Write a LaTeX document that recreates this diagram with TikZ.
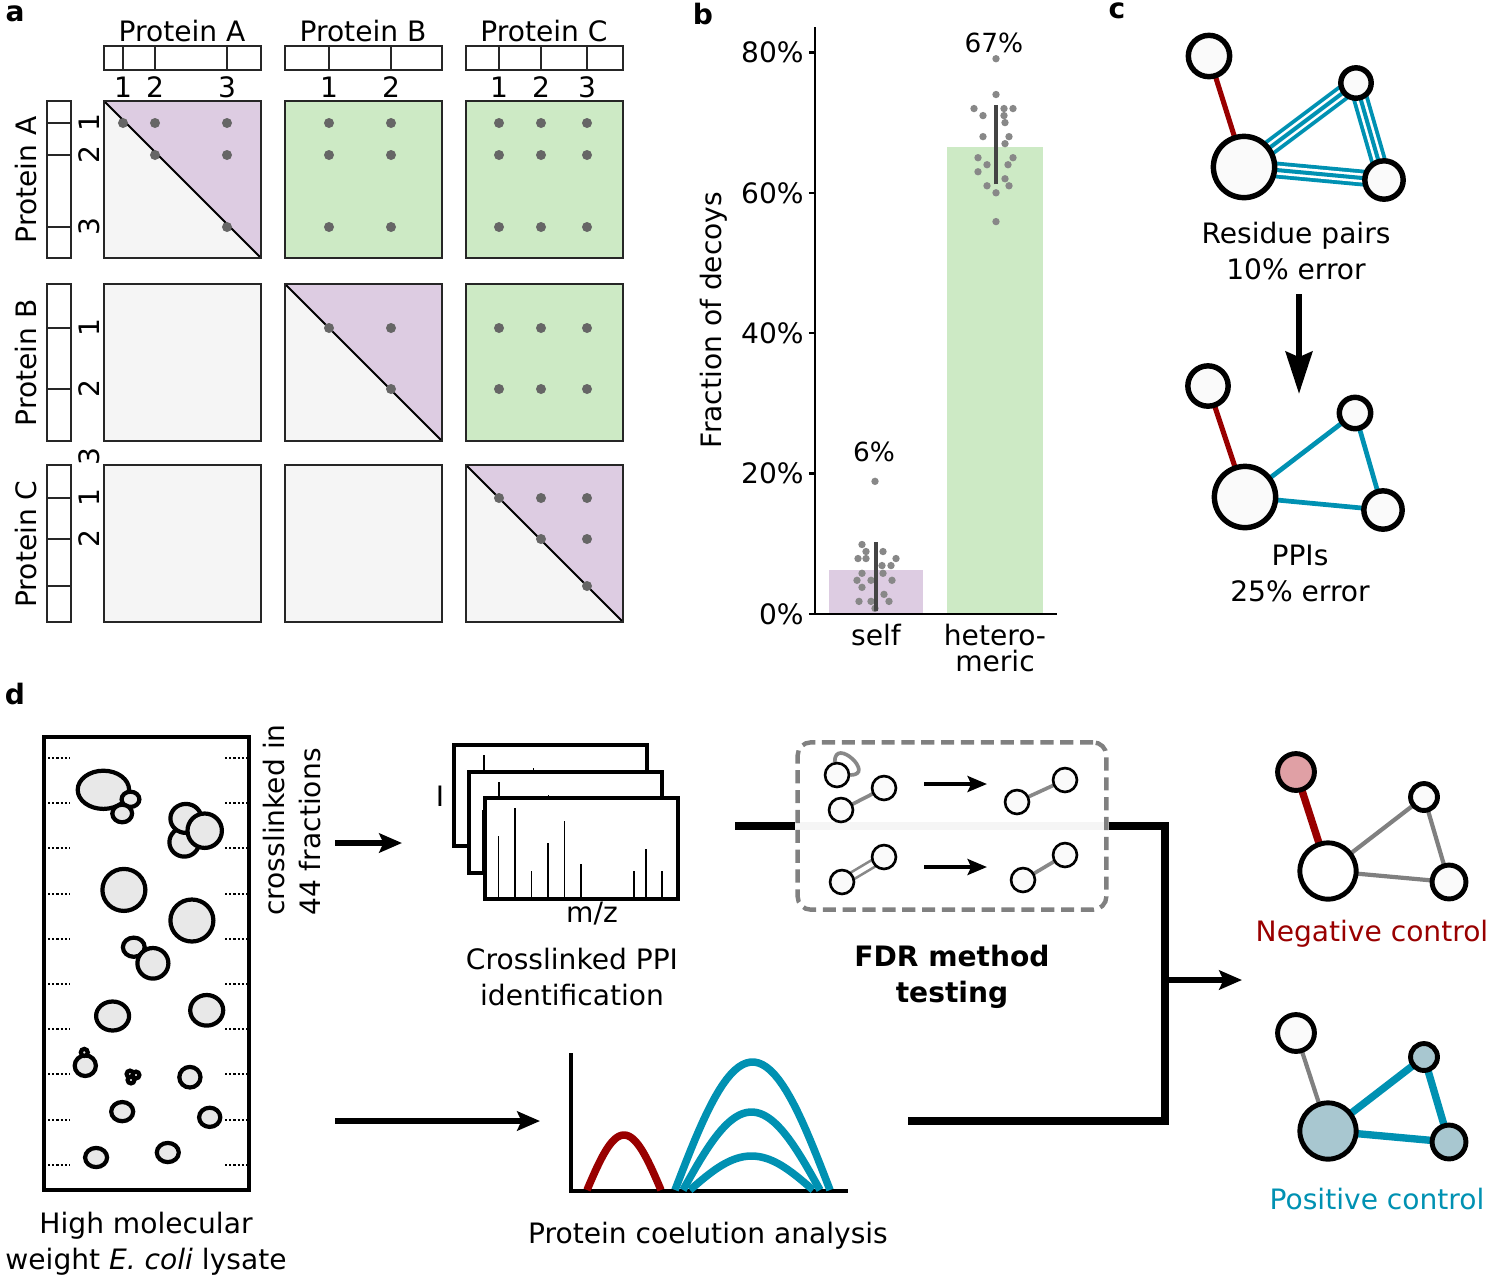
\documentclass[tikz,border=0pt]{standalone}
\usepackage{xcolor}
\usepackage{fontspec}
\setmainfont{DejaVu Sans}
\usepackage{tikz}
\usetikzlibrary{shapes,shapes.geometric,arrows.meta,calc,positioning,fit}

\definecolor{selfpurple}{RGB}{221,204,226}
\definecolor{hetgreen}{RGB}{205,234,197}
\definecolor{cellgray}{RGB}{245,245,245}
\definecolor{dotgray}{RGB}{102,102,102}
\definecolor{stripgray}{RGB}{136,136,136}
\definecolor{errgray}{RGB}{68,68,68}
\definecolor{linkgray}{RGB}{128,128,128}
\definecolor{ppiblue}{RGB}{0,145,178}
\definecolor{decoyred}{RGB}{153,0,0}
\definecolor{negfill}{RGB}{224,160,165}
\definecolor{posfill}{RGB}{168,199,208}
\definecolor{nodefill}{RGB}{250,250,250}
\definecolor{blobfill}{RGB}{232,232,232}

\newlength{\pxu}
\setlength{\pxu}{0.5669pt}
\newcommand{\bodyfont}{\fontsize{16}{20.5}\selectfont}
\newcommand{\panelfont}{\fontsize{16}{18}\selectfont\bfseries}

\pgfdeclarelayer{edges}
\pgfsetlayers{edges,main}

\begin{document}
\begin{tikzpicture}[x=0.02cm, y=-0.02cm, font=\bodyfont,
    arrow/.style = {line width=3.1pt,-{Stealth[length=13pt,width=11pt,inset=2.5pt]}}]
  \tikzset{panel/.style={font=\panelfont},
    cell/.style={draw=black!85,line width=1.4pt},
    seqbar/.style={draw=black!85,line width=1.4pt,fill=white},
    flow/.style={line width=4.2pt},
    bigarrow/.style={line width=3.9pt,-{Stealth[length=24pt,width=15pt,inset=3pt]}},
    minarrow/.style={line width=2.6pt,-{Stealth[length=11pt,width=9pt,inset=2pt]}},
    prot/.style={circle,draw=black,line width=3.1pt,fill=nodefill,inner sep=0pt},
    ctrl/.style={circle,draw=black,line width=2.8pt,fill=nodefill,inner sep=0pt},
    mini/.style={circle,draw=black,line width=1.5pt,fill=nodefill,inner sep=0pt,minimum size=24*\pxu},
    decoy/.style={draw=decoyred,line width=2.9pt},
    ppi/.style={draw=ppiblue,line width=2.7pt},
    triple/.style={draw=ppiblue,line width=9.6pt,postaction={draw=white,line width=5.2pt},postaction={draw=ppiblue,line width=2.3pt}},
    graylink/.style={draw=linkgray,line width=2.4pt},
    fdrlink/.style={draw=stripgray,line width=2.1pt},
    blob/.style={draw=black,line width=2.4pt,fill=blobfill},
    fraction/.style={line width=1.2pt,dash pattern=on 1.2pt off 1.2pt},
    specframe/.style={draw=black,line width=2.2pt,fill=white},
    fdrbox/.style={rectangle,draw=linkgray,line width=2.5pt,rounded corners=7.5pt,dash pattern=on 7.5pt off 3.8pt}}

  \useasboundingbox (0,0) rectangle (1491,1279);

  % Panel a: contact maps
  \node[panel] (la) at (15,14) {a};
  \foreach \x/\y/\f in {104/101/cellgray,285/101/hetgreen,466/101/hetgreen,
                        104/284/cellgray,285/284/cellgray,466/284/hetgreen,
                        104/465/cellgray,285/465/cellgray,466/465/cellgray}
    \draw[cell,fill=\f] (\x,\y) rectangle ++(157,157);
  \foreach \x/\y in {104/101,285/284,466/465} {
    \fill[selfpurple] (\x,\y) -- ++(157,0) -- ++(0,157) -- cycle;
    \draw[line width=1.1pt] (\x,\y) -- ++(157,157);
    \draw[cell] (\x,\y) rectangle ++(157,157);
  }

  % crosslinks
  \foreach \x in {329,391,499,541,587}
    \foreach \y in {123,155,227}
      \fill[dotgray] (\x,\y) circle[radius=2.85pt];
  \foreach \x in {499,541,587}
    \foreach \y in {328,389}
      \fill[dotgray] (\x,\y) circle[radius=2.85pt];
  \foreach \x/\y in {123/123,155/123,227/123,155/155,227/155,227/227,
                     329/328,391/328,391/389,
                     499/498,541/498,587/498,541/539,587/539,587/586}
    \fill[dotgray] (\x,\y) circle[radius=2.85pt];

  % sequence bars
  \foreach \x/\name/\cuts in {104/A/{123,155,227},285/B/{329,391},466/C/{499,541,587}} {
    \draw[seqbar] (\x,46) rectangle ++(157,24);
    \foreach \c [count=\i] in \cuts {
      \draw[seqbar] (\c,46) -- (\c,70);
      \node (top\name\i) at (\c,87) {\i};
    }
    \node (top\name) at ({\x+78},31) {Protein \name};
  }
  \foreach \y/\name/\cuts in {101/A/{123,155,227},284/B/{328,389},465/C/{498,539,586}} {
    \draw[seqbar] (47,\y) rectangle ++(24,157);
    \foreach \c in \cuts \draw[seqbar] (47,\c) -- (71,\c);
    \node[rotate=90] (side\name) at (26,{\y+79}) {Protein \name};
  }
  \foreach \y/\t [count=\i] in {123/1,155/2,227/3,328/1,389/2,457/3,498/1,539/2}
    \node[rotate=90] (sidenum\i) at (89,\y) {\t};

  % Panel b: decoy fractions
  \node[panel] (lb) at (703,14) {b};
  \fill[selfpurple] (829,614) rectangle (923,{614-7.02*6.2});
  \fill[hetgreen] (947,614) rectangle (1043,{614-7.02*66.5});
  \draw[line width=1.4pt] (815,27) -- (815,614) -- (1057,614);
  \foreach \v in {0,20,40,60,80} {
    \draw[line width=1.4pt] (809,{614-7.02*\v}) -- (815,{614-7.02*\v});
    \node[anchor=east,inner sep=0pt] (tick\v) at (804,{614-7.02*\v}) {\v\%};
  }
  \foreach \x/\v in {875/18.9,862/9.9,866/8.9,883/8.9,858/7.9,866/7.9,896/7.9,882/6.9,891/6.9,
                     862/5.8,883/5.8,857/4.8,871/4.8,892/4.8,862/3.8,884/2.8,859/1.8,871/1.8,889/1.8,875/0.8,
                     996/79.1,996/74.0,974/72.0,1004/72.0,1013/72.0,983/71.0,1004/71.0,1005/70.0,
                     983/68.0,1009/68.0,1005/67.0,978/65.0,1013/65.0,987/64.0,1008/64.0,978/63.0,
                     1005/62.0,987/61.0,1009/61.0,996/60.0,996/55.9}
    \fill[stripgray] (\x,{614-7.02*\v}) circle[radius=2.1pt];
  \draw[errgray,line width=1.9pt] (876,{614-7.02*0.5}) -- (876,{614-7.02*10.2});
  \draw[errgray,line width=1.9pt] (996,{614-7.02*61.2}) -- (996,{614-7.02*72.5});
  \node[font=\fontsize{15}{18}\selectfont] (selfval) at (874,452) {6\%};
  \node[font=\fontsize{15}{18}\selectfont] (hetval) at (994,43) {67\%};
  \node (selfcat) at (876,635) {self};
  \node[align=center,font=\fontsize{16}{14.5}\selectfont] (hetcat) at (995,648) {hetero-\\meric};
  \node[rotate=90] (ylab) at (714,320) {Fraction of decoys};

  % Panel c: residue pairs and PPIs
  \node[panel] (lc) at (1117,11) {c};
  \node[prot,minimum size=41.5*\pxu] (rp1) at (1209,56) {};
  \node[prot,minimum size=61.5*\pxu] (rp2) at (1244,167) {};
  \node[prot,minimum size=30.5*\pxu] (rp3) at (1356,83) {};
  \node[prot,minimum size=38.5*\pxu] (rp4) at (1384,180) {};
  \node[align=center] (rptext) at (1296,251) {Residue pairs\\10\% error};

  \node[prot,minimum size=40.5*\pxu] (pp1) at (1208,386) {};
  \node[prot,minimum size=61.5*\pxu] (pp2) at (1245,497) {};
  \node[prot,minimum size=31.5*\pxu] (pp3) at (1355,413) {};
  \node[prot,minimum size=38.5*\pxu] (pp4) at (1383,510) {};
  \node[align=center] (pptext) at (1300,573) {PPIs\\25\% error};

  \coordinate (cdown1) at (1299,294);
  \coordinate (cdown2) at (1299,394);
  \draw[bigarrow] (cdown1) -- (cdown2);

  \begin{pgfonlayer}{edges}
    \draw[decoy] (rp1.center) -- (rp2.center);
    \draw[triple] (rp2.center) -- (rp3.center);
    \draw[triple] (rp2.center) -- (rp4.center);
    \draw[triple] (rp3.center) -- (rp4.center);
    \draw[decoy] (pp1.center) -- (pp2.center);
    \draw[ppi] (pp2.center) -- (pp3.center);
    \draw[ppi] (pp2.center) -- (pp4.center);
    \draw[ppi] (pp3.center) -- (pp4.center);
  \end{pgfonlayer}

  % Panel d: lysate
  \node[panel] (ld) at (15,694) {d};
  \draw[line width=2.4pt] (44,737) rectangle (249,1190);
  \foreach \k in {0,...,9} {
    \draw[fraction] (48,{758+45.2*\k}) -- (70,{758+45.2*\k});
    \draw[fraction] (225,{758+45.2*\k}) -- (247,{758+45.2*\k});
  }
  \foreach \x/\y/\rx/\ry in {103.4/789.8/25.7/19.1, 130.5/799.3/8.9/7.6, 122.2/813.5/9.9/8.8,
                             184.3/842.1/14.9/14.5, 185.9/818.4/15.5/14.5, 204.7/830.7/17.2/17.2,
                             123.9/889.9/21.5/21, 191.9/920.5/21.5/21,
                             133.8/947.2/10.9/9.6, 152.9/963.3/15.5/15.3,
                             112.6/1016/16.5/14.5, 206.7/1010.3/16.5/15.3,
                             85.3/1065.7/10.6/10.3, 84.3/1052.4/3.5/3.5,
                             130/1074/3.4/3.4, 136/1075/3.4/3.4, 131/1080/3.4/3.4,
                             189.9/1077.2/10.6/10.3, 122.2/1111.6/11/9.6, 209.7/1117.3/10.6/9.6,
                             96.1/1157.5/11/9.6, 167.8/1152.5/11/9.6}
    \draw[blob] (\x,\y) ellipse[x radius=\rx, y radius=\ry];
  \node[align=center] (lysate) at (146,1244) {High molecular\\weight \textit{E. coli} lysate};
  \node[rotate=90,align=left] (xlink) at (292,820) {crosslinked in\\44 fractions};

  % spectra
  \foreach \sx/\sy in {454/745,469/772,485/798} {
    \draw[specframe] (\sx,\sy) rectangle ++(193,101);
    \foreach \o/\h in {13.5/63,30/91,46.5/28,63/56,79.5/78,96/35,149/28,161/50,177/28}
      \draw[line width=0.8pt] ({\sx+\o},{\sy+101}) -- ++(0,-\h);
  }
  \node (intens) at (440,796) {I};
  \node (mz) at (592,914) {m/z};
  \node[align=center] (spectext) at (572,977) {Crosslinked PPI\\identification};

  % FDR method testing
  \node[fdrbox,minimum width=310*\pxu,minimum height=168*\pxu] (fdr) at (952,826) {};
  \node[mini] (fa1) at (837,775) {};
  \node[mini] (fa2) at (884,788) {};
  \node[mini] (fa3) at (841,810) {};
  \node[mini] (ga1) at (1017,802) {};
  \node[mini] (ga2) at (1065,780) {};
  \node[mini] (fb1) at (842,882) {};
  \node[mini] (fb2) at (884,857) {};
  \node[mini] (gb1) at (1023,880) {};
  \node[mini] (gb2) at (1065,855) {};
  \coordinate (fdrA1) at (924,784);
  \coordinate (fdrA2) at (987,784);
  \coordinate (fdrB1) at (924,867);
  \coordinate (fdrB2) at (987,867);
  \draw[minarrow] (fdrA1) -- (fdrA2);
  \draw[minarrow] (fdrB1) -- (fdrB2);
  \node[align=center,font=\bodyfont\bfseries] (fdrtext) at (952,977) {FDR method\\testing};

  % coelution
  \draw[line width=1.9pt] (571,1053) -- (571,1191) -- (848,1191);
  \draw[draw=decoyred,line width=4.3pt] plot[variable=\t,domain=0:180,samples=40] ({587+0.4111*\t},{1190-55*sin(\t)});
  \foreach \pa/\pw/\ph in {675/155/128,683/137/78,690/123/34}
    \draw[draw=ppiblue,line width=4.3pt] plot[variable=\t,domain=0:180,samples=40] ({\pa+\pw/180*\t},{1190-\ph*sin(\t)});
  \node (coeltext) at (708,1236) {Protein coelution analysis};

  % controls
  \node[ctrl,fill=negfill,minimum size=37*\pxu] (neg1) at (1296,772) {};
  \node[ctrl,fill=white,minimum size=56.5*\pxu] (neg2) at (1328,871) {};
  \node[ctrl,minimum size=27*\pxu] (neg3) at (1424,797) {};
  \node[ctrl,minimum size=34*\pxu] (neg4) at (1449,882) {};
  \node[text=decoyred] (negtext) at (1372,934) {Negative control};
  \node[ctrl,minimum size=37*\pxu] (pos1) at (1296,1033) {};
  \node[ctrl,fill=posfill,minimum size=56.5*\pxu] (pos2) at (1328,1131) {};
  \node[ctrl,fill=posfill,minimum size=27*\pxu] (pos3) at (1424,1057) {};
  \node[ctrl,fill=posfill,minimum size=34*\pxu] (pos4) at (1449,1142) {};
  \node[text=ppiblue] (postext) at (1377,1199) {Positive control};

  % Arrows
  \coordinate (tubeout1) at (335,843);
  \coordinate (specin) at (402,843);
  \coordinate (tubeout2) at (335,1121);
  \coordinate (coelin) at (540,1121);
  \coordinate (specout) at (735,826);
  \coordinate (coelout) at (908,1121);
  \coordinate (merge) at (1165,980);
  \coordinate (ctrlin) at (1242,980);
  \draw[arrow] (tubeout1) -- (specin);
  \draw[arrow] (tubeout2) -- (coelin);
  \draw[flow] (specout) -- (fdr.west);
  \draw[flow] (fdr.east) -| (merge);
  \draw[flow] (coelout) -| (merge);
  \draw[arrow] (merge) -- (ctrlin);

  \begin{pgfonlayer}{edges}
    \draw[line width=4.5pt,black!4] (fdr.west) -- (fdr.east);
    \draw[fdrlink] (fa1.100) .. controls +(0,-26) and +(26,0) .. (fa1.0);
    \draw[fdrlink] (fa3.center) -- (fa2.center);
    \draw[fdrlink] (ga1.center) -- (ga2.center);
    \draw[fdrlink,line width=1.5pt,double=white,double distance=2.6pt] (fb1.center) -- (fb2.center);
    \draw[fdrlink] (gb1.center) -- (gb2.center);
    \draw[decoyred,line width=4.2pt] (neg1.center) -- (neg2.center);
    \draw[graylink] (neg2.center) -- (neg3.center);
    \draw[graylink] (neg3.center) -- (neg4.center);
    \draw[graylink] (neg2.center) -- (neg4.center);
    \draw[graylink] (pos1.center) -- (pos2.center);
    \draw[ppiblue,line width=4.2pt] (pos2.center) -- (pos3.center);
    \draw[ppiblue,line width=4.2pt] (pos3.center) -- (pos4.center);
    \draw[ppiblue,line width=4.2pt] (pos2.center) -- (pos4.center);
  \end{pgfonlayer}

\end{tikzpicture}
\end{document}
